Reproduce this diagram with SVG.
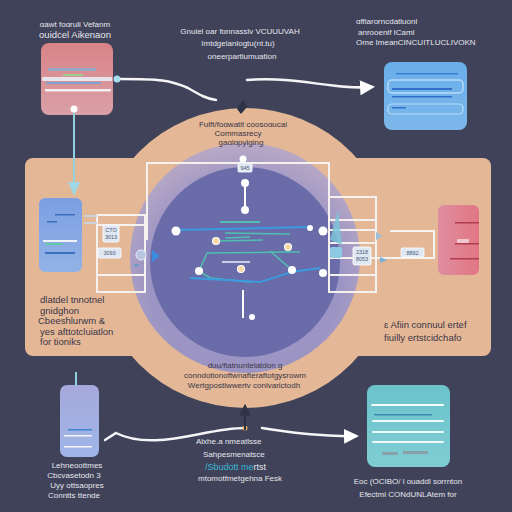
<svg xmlns="http://www.w3.org/2000/svg" width="512" height="512" viewBox="0 0 512 512">
<defs>
<linearGradient id="gPink" x1="0" y1="0" x2="0" y2="1"><stop offset="0" stop-color="#d98388"/><stop offset="1" stop-color="#d9a0a6"/></linearGradient>
<linearGradient id="gBlue" x1="0" y1="0" x2="0" y2="1"><stop offset="0" stop-color="#69aeea"/><stop offset="1" stop-color="#7cb7ea"/></linearGradient>
<linearGradient id="gLBlue" x1="0" y1="0" x2="0" y2="1"><stop offset="0" stop-color="#7c9fe2"/><stop offset="1" stop-color="#92b2e6"/></linearGradient>
<linearGradient id="gRPink" x1="0" y1="0" x2="1" y2="0"><stop offset="0" stop-color="#df8ea0"/><stop offset="1" stop-color="#e27683"/></linearGradient>
<linearGradient id="gLav" x1="0" y1="0" x2="0" y2="1"><stop offset="0" stop-color="#a6a9dc"/><stop offset="1" stop-color="#9fb5e8"/></linearGradient>
<linearGradient id="gTeal" x1="0" y1="0" x2="0" y2="1"><stop offset="0" stop-color="#6cc3cc"/><stop offset="1" stop-color="#7fcdd3"/></linearGradient>
<radialGradient id="gRing" cx="0.5" cy="0.6" r="0.6"><stop offset="0.7" stop-color="#9c95c4"/><stop offset="1" stop-color="#b9a9c5"/></radialGradient>
<marker id="aw" viewBox="0 0 10 10" refX="8" refY="5" markerWidth="6" markerHeight="6" orient="auto"><path d="M0,0 L10,5 L0,10 z" fill="#ffffff"/></marker>
<marker id="ad" viewBox="0 0 10 10" refX="8" refY="5" markerWidth="6" markerHeight="6" orient="auto"><path d="M0,0 L10,5 L0,10 z" fill="#2f3347"/></marker>
</defs>
<style>
text{font-family:"Liberation Sans","DejaVu Sans",sans-serif;}
.lt{fill:#e6e6ee;font-size:9.5px;}
.dk{fill:#3b3548;font-size:9.5px;}
.sm{font-size:8px;}
.wl{stroke:#f4f1ee;stroke-width:2;fill:none;}
.curve{stroke:#f4f4f6;stroke-width:2.5;fill:none;stroke-linecap:round;}
.dot{fill:#ffffff;}
.odot{fill:#f7d6a8;stroke:#ffffff;stroke-width:1.2;}
.tag{fill:#dfe8f2;stroke:#ffffff;stroke-width:0.8;}
.tagt{fill:#4a5a78;font-size:5.5px;}
</style>
<rect width="512" height="512" fill="#3f4258"/>

<g id="background-shapes">
<circle cx="245" cy="258" r="150" fill="#e4b896"/>
<rect x="25" y="158" width="466" height="198" rx="8" fill="#e4b896"/>
<circle cx="245" cy="258" r="115" fill="url(#gRing)"/>
<circle cx="245" cy="262" r="95" fill="#6a6caa"/>
</g>

<g id="inner-frames">
<path class="wl" d="M147,240 V163 H329 V197"/>
<rect class="wl" x="97" y="215" width="48" height="77"/>
<line class="wl" x1="97" y1="225" x2="145" y2="225"/>
<line class="wl" x1="97" y1="275" x2="145" y2="275"/>
<rect class="wl" x="329" y="197" width="47" height="95"/>
<line class="wl" x1="330" y1="220" x2="376" y2="220"/>
<line class="wl" x1="330" y1="230" x2="376" y2="230"/>
<line class="wl" x1="330" y1="243" x2="376" y2="243"/>
<line class="wl" x1="330" y1="258" x2="376" y2="258"/>
<line class="wl" x1="330" y1="275" x2="376" y2="275"/>
<path class="wl" d="M390,231 H434 V258 H376"/>
<line stroke="#c9d2dd" stroke-width="2" x1="84" y1="216" x2="97" y2="216"/>
<line stroke="#c9d2dd" stroke-width="2" x1="84" y1="223" x2="97" y2="223"/>
</g>

<g id="card-top-left">
<rect x="41" y="43" width="72" height="72" rx="8" fill="url(#gPink)"/>
<rect x="48" y="68" width="48" height="3" fill="#9aa8c8"/>
<rect x="42" y="77" width="70" height="4" rx="1" fill="#e7e4ee"/>
<rect x="46" y="82" width="55" height="2" fill="#7fa0d0"/>
<rect x="63" y="74" width="20" height="2" fill="#9ccf8a"/>
<rect x="45" y="89" width="66" height="2.5" fill="#f2eef2"/>
<text class="lt sm" x="75" y="27" text-anchor="middle">ɑawt foɑruli Vefanm</text>
<text class="lt" x="75" y="38" text-anchor="middle">ouidcel Aikenaon</text>
</g>

<g id="card-top-right">
<rect x="384" y="62" width="83" height="68" rx="8" fill="url(#gBlue)"/>
<rect x="396" y="73" width="62" height="1.5" fill="#3b7ed0"/>
<rect x="388" y="80" width="75" height="13" rx="4" fill="none" stroke="#b9dcf7" stroke-width="1.5"/>
<rect x="392" y="88" width="60" height="2" fill="#3070c8"/>
<rect x="392" y="96" width="60" height="1.5" fill="#3070c8"/>
<rect x="388" y="104" width="75" height="10" rx="4" fill="none" stroke="#b9dcf7" stroke-width="1.2"/>
<rect x="392" y="107" width="14" height="1.5" fill="#3070c8"/>
<text class="lt sm" x="356" y="24">ɑffiarorncdatluonl</text>
<text class="lt sm" x="358" y="35">anrooenif ICaml</text>
<text class="lt sm" x="356" y="45">Ome ImeanCINCUITLUCLIVOKN</text>
</g>

<g id="top-center-label">
<text class="lt sm" x="240" y="34" text-anchor="middle">Gnuiel oar fɑnnasslv VCUUUVAH</text>
<text class="lt sm" x="238" y="46" text-anchor="middle">Imtdgelanlogtu(nt.tu)</text>
<text class="lt sm" x="242" y="59" text-anchor="middle">oneerpartlumuation</text>
</g>

<g id="card-left">
<rect x="39" y="198" width="43" height="74" rx="6" fill="url(#gLBlue)"/>
<rect x="55" y="214" width="20" height="1.5" fill="#3b6fc0"/>
<rect x="47" y="221" width="10" height="1.5" fill="#3b6fc0"/>
<rect x="43" y="240" width="34" height="2" fill="#f0f2f8"/>
<rect x="45" y="243" width="18" height="2" fill="#66c6a8"/>
<rect x="45" y="252" width="30" height="2" fill="#3b6fc0"/>
<text class="dk" x="40" y="303" font-size="9px">dlatdel tnnotnel</text>
<text class="dk" x="40" y="313.5" font-size="9px">gnidghon</text>
<text class="dk" x="38" y="324" font-size="9px">Cbeeshlurwm &amp;</text>
<text class="dk" x="40" y="334.5" font-size="9px">yes afttotcluiatlon</text>
<text class="dk" x="40" y="345" font-size="9px">for tioniks</text>
</g>

<g id="card-right">
<rect x="438" y="205" width="41" height="70" rx="6" fill="url(#gRPink)"/>
<rect x="455" y="222" width="24" height="1.5" fill="#b03c4c"/>
<rect x="455" y="243" width="24" height="1.5" fill="#b03c4c"/>
<rect x="450" y="258" width="29" height="1.5" fill="#b03c4c"/>
<rect x="457" y="239" width="12" height="4" rx="1" fill="#f2c6ce"/>
<text class="dk" x="384" y="328">ɛ Afiin connuul ertef</text>
<text class="dk" x="384" y="341">fiuilly ertstcidchafo</text>
</g>

<g id="card-bottom-left">
<rect x="60" y="385" width="39" height="72" rx="7" fill="url(#gLav)"/>
<rect x="68" y="429" width="24" height="1.5" fill="#3b88d8"/>
<rect x="64" y="435" width="28" height="1.5" fill="#f4f4fa"/>
<rect x="64" y="446" width="28" height="1.5" fill="#f4f4fa"/>
<text class="lt sm" x="77" y="468" text-anchor="middle">Lehneoottmes</text>
<text class="lt sm" x="74" y="478" text-anchor="middle">Cbcvasetodn 3</text>
<text class="lt sm" x="77" y="488" text-anchor="middle">Uyy ottsaopres</text>
<text class="lt sm" x="74" y="498" text-anchor="middle">Conntts ttende</text>
</g>

<g id="card-bottom-right">
<rect x="367" y="385" width="83" height="82" rx="8" fill="url(#gTeal)"/>
<rect x="371" y="404" width="73" height="2" rx="1" fill="#f4fbfb"/>
<rect x="374" y="414" width="58" height="1.5" fill="#3a88b0"/>
<rect x="372" y="420" width="72" height="2" rx="1" fill="#eef8f8"/>
<rect x="372" y="431" width="72" height="2" rx="1" fill="#eef8f8"/>
<rect x="372" y="441" width="72" height="2" rx="1" fill="#eef8f8"/>
<rect x="382" y="452" width="16" height="3" fill="#8aa0a8"/>
<rect x="403" y="451" width="25" height="3" fill="#8aa0a8"/>
<text class="lt sm" x="408" y="484" text-anchor="middle">Eoc (OCIBO/ l ouaddl sorrnton</text>
<text class="lt sm" x="408" y="497" text-anchor="middle">Efectmi CONdUNLAtem for</text>
</g>

<g id="core">
<text class="dk sm" x="243" y="127" text-anchor="middle">Fulft/foɑwatit coosoɑucal</text>
<text class="dk sm" x="238" y="136" text-anchor="middle">Commasrecy</text>
<text class="dk sm" x="241" y="145" text-anchor="middle">gaɑlɑpylging</text>
<line stroke="#ffffff" stroke-width="2" x1="245" y1="183" x2="245" y2="210"/>
<rect class="tag" x="238" y="163" width="14" height="9" rx="1"/>
<text class="tagt" x="245" y="170" text-anchor="middle">945</text>
<circle class="dot" cx="243" cy="159" r="3.5"/>
<circle class="dot" cx="245" cy="183" r="4"/>
<circle class="dot" cx="245" cy="210" r="4"/>
<path d="M176,230 L310,227" stroke="#3a9be0" stroke-width="2" fill="none"/>
<path d="M220,222 L260,222" stroke="#4fc0b0" stroke-width="2"/>
<path d="M225,233 L290,234" stroke="#4fc0b0" stroke-width="1.5"/>
<path d="M225,238 L250,237" stroke="#4fc0b0" stroke-width="1.5"/>
<path d="M213,241 L263,240" stroke="#4fc0b0" stroke-width="1.5"/>
<path d="M207,253 L290,252 L300,252" stroke="#4fc0b0" stroke-width="1.5"/>
<path d="M207,253 L199,271 L210,278 L250,282" stroke="#4fc0b0" stroke-width="1.5" fill="none"/>
<path d="M270,251 L292,270" stroke="#4fc0b0" stroke-width="1.5"/>
<path d="M222,262 L250,262" stroke="#e6f0f6" stroke-width="1.5"/>
<path d="M190,278 L260,282 L292,272 L320,268" stroke="#3a9be0" stroke-width="1.8" fill="none"/>
<line stroke="#ffffff" stroke-width="2" x1="243" y1="290" x2="243" y2="318"/>
<circle class="dot" cx="176" cy="231" r="4.5"/>
<circle class="dot" cx="310" cy="228" r="3"/>
<circle class="dot" cx="323" cy="231" r="4.5"/>
<circle class="dot" cx="199" cy="271" r="4"/>
<circle class="dot" cx="292" cy="270" r="4"/>
<circle class="dot" cx="323" cy="273" r="4"/>
<circle class="dot" cx="252" cy="317" r="3"/>
<circle class="odot" cx="216" cy="241" r="3.5"/>
<circle class="odot" cx="288" cy="247" r="3.5"/>
<circle class="odot" cx="241" cy="269" r="3.5"/>
<path d="M330,240 L338,210 L342,245 Z" fill="#7cc6d8" opacity="0.85"/>
<rect x="330" y="247" width="12" height="11" rx="2" fill="#8dc9e2"/>
<path d="M152,250 L160,256 L152,262 Z" fill="#3a8de0"/>
<circle cx="141" cy="255" r="5" fill="#b8c4e0" stroke="#e8ecf4" stroke-width="1"/>
<path d="M133,264 L140,264 L136,268 Z" fill="#7a9ac8"/>
<text class="dk sm" x="245" y="368" text-anchor="middle">duu/fiatnuntelatdon g</text>
<text class="dk sm" x="245" y="378" text-anchor="middle">conndotionoftwnafteraftotgysrowm</text>
<text class="dk sm" x="244" y="388" text-anchor="middle">Wertgpostlwwertv conlvarictodh</text>
</g>

<g id="tags">
<rect class="tag" x="103" y="225" width="16" height="17" rx="1.5"/>
<text class="tagt" x="111" y="232" text-anchor="middle">CTO</text>
<text class="tagt" x="111" y="239" text-anchor="middle">3013</text>
<rect class="tag" x="98" y="248" width="23" height="10" rx="1.5"/>
<text class="tagt" x="109.5" y="255" text-anchor="middle">3093</text>
<rect class="tag" x="353" y="247" width="18" height="18" rx="1.5"/>
<text class="tagt" x="362" y="254" text-anchor="middle">2318</text>
<text class="tagt" x="362" y="261" text-anchor="middle">8053</text>
<rect class="tag" x="401" y="248" width="23" height="9" rx="1.5"/>
<text class="tagt" x="412.5" y="255" text-anchor="middle">8892</text>
<path d="M380,257 L387,260 L380,263 Z" fill="#7ab0d8"/>
<path d="M376,232 L382,236 L376,240 Z" fill="#9cc0e0"/>
</g>

<g id="connectors">
<path class="curve" d="M120,79 C160,79 170,80 188,88 C200,95 207,99 216,100"/>
<circle cx="117" cy="79" r="3.5" fill="#a8dff0"/>
<path class="curve" d="M247,80 C300,76 330,90 372,87" marker-end="url(#aw)"/>
<path d="M237,109 L243,100 L247,107 L241,114 Z" fill="#2e3246"/>
<line stroke="#8fd0dc" stroke-width="2" x1="74" y1="109" x2="74" y2="190"/>
<circle cx="74" cy="109" r="3.5" fill="#ffffff"/>
<path d="M68,182 L80,182 L74,196 Z" fill="#9fd7e4"/>
<line stroke="#8fd0dc" stroke-width="2" x1="76" y1="372" x2="76" y2="386"/>
<path class="curve" d="M105,440 L116,433 C140,445 170,440 200,434 C220,430 235,428 245,428"/>
<circle cx="245" cy="428" r="2.5" fill="#f0b060"/>
<path class="curve" d="M262,428 C290,432 320,437 356,436" marker-end="url(#aw)"/>
<line stroke="#2b2f42" stroke-width="2" x1="245" y1="430" x2="245" y2="406" marker-end="url(#ad)"/>
</g>

<g id="bottom-center-label">
<text class="lt sm" x="196" y="444">Alxhe.a nmeatlsse</text>
<text class="lt sm" x="203" y="457">Sahpesmenatsce</text>
<text x="205" y="470" font-size="9px"><tspan fill="#3ab8d8">/Sbudott me</tspan><tspan fill="#e6e6ee">rtst</tspan></text>
<text class="lt sm" x="198" y="481">mtomotfmetgehna Fesk</text>
</g>
</svg>
